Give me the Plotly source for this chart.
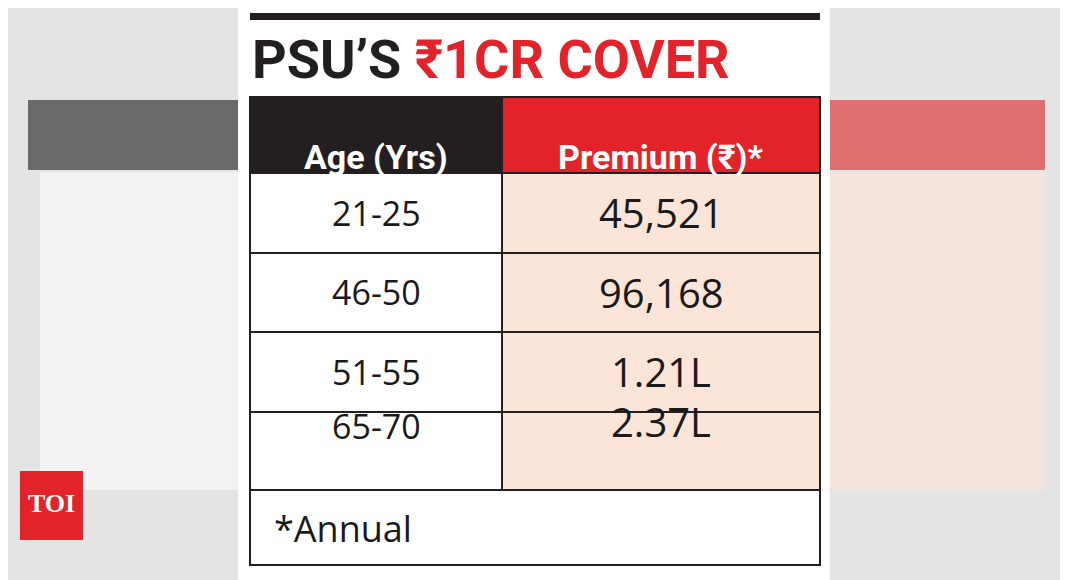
import plotly.graph_objects as go

ages = ["21-25", "46-50", "51-55", "65-70"]
premiums = ["45,521", "96,168", "1.21L", "2.37L"]
headers = ["Age (Yrs)", "Premium (₹)*"]
title_black = "PSU’S "
title_red = "₹1CR COVER"
footnote = "*Annual"

W, H = 1068, 580
OFF = 8  # page body margin
def px(x): return (x - OFF) / W
def py(y): return 1 - (y - OFF) / H

TOP, HDR, ROW = 97, 76, 79.5
fig = go.Figure()
fig.add_trace(go.Table(
    domain=dict(x=[px(250), px(820)], y=[py(490), py(TOP)]),
    columnwidth=[252, 318],
    header=dict(values=["", ""], fill_color=["#231f20", "#e3232a"],
                height=HDR, line=dict(color="#231f20", width=2)),
    cells=dict(values=[[""] * len(ages), [""] * len(premiums)],
               fill_color=[["white"] * len(ages), ["#fbe4d8"] * len(ages)],
               height=ROW, line=dict(color="#231f20", width=2)),
))

shapes = [
    dict(type="rect", x0=px(238), x1=px(830), y0=-0.1, y1=1.1, fillcolor="white", line_width=0, layer="below"),
    dict(type="rect", x0=px(28), x1=px(238), y0=py(170), y1=py(100), fillcolor="#6a6a6a", line_width=0, layer="below"),
    dict(type="rect", x0=px(830), x1=px(1045), y0=py(170), y1=py(100), fillcolor="#e07070", line_width=0, layer="below"),
    dict(type="rect", x0=px(830), x1=px(1045), y0=py(490), y1=py(172), fillcolor="#f3e4dc", line_width=0, layer="below"),
    dict(type="rect", x0=px(40), x1=px(238), y0=py(490), y1=py(172), fillcolor="#f2f2f2", line_width=0, layer="below"),
    dict(type="rect", x0=px(250), x1=px(820), y0=py(20), y1=py(13), fillcolor="#231f20", line_width=0),
    dict(type="rect", x0=px(250), x1=px(820), y0=py(565), y1=py(490), fillcolor="rgba(0,0,0,0)",
         line=dict(color="#231f20", width=2)),
    dict(type="rect", x0=px(20), x1=px(83), y0=py(540), y1=py(471), fillcolor="#e3232a", line_width=0),
]

cond = "Liberation Sans Narrow, Roboto, sans-serif"
annotations = [
    dict(x=px(250), y=py(60), xref="paper", yref="paper", xanchor="left", yanchor="middle", showarrow=False,
         text=f"<b>{title_black}<span style='color:#e3232a'>{title_red}</span></b>",
         font=dict(size=54, color="#231f20", family=cond)),
    dict(x=px(272), y=py(528), xref="paper", yref="paper", xanchor="left", yanchor="middle", showarrow=False,
         text=footnote, font=dict(size=36, color="#1a1a1a", family="Open Sans, sans-serif")),
    dict(x=px(51.5), y=py(503), xref="paper", yref="paper", xanchor="center", yanchor="middle", showarrow=False,
         text="<b>TOI</b>", font=dict(size=26, color="white", family="Liberation Serif, serif")),
]
colx = [376, 661]
for cx, h in zip(colx, headers):
    annotations.append(dict(x=px(cx), y=py(TOP + HDR / 2), xref="paper", yref="paper", showarrow=False,
                            text=f"<b>{h}</b>", font=dict(size=34, color="white", family=cond)))
for i, (a, p) in enumerate(zip(ages, premiums)):
    yc = py(TOP + HDR + ROW * (i + 0.5))
    annotations.append(dict(x=px(colx[0]), y=yc, xref="paper", yref="paper", showarrow=False,
                            text=a, font=dict(size=34, color="#1a1a1a", family="Open Sans, sans-serif")))
    annotations.append(dict(x=px(colx[1]), y=yc, xref="paper", yref="paper", showarrow=False,
                            text=p, font=dict(size=40, color="#1a1a1a", family="Open Sans, sans-serif")))

fig.update_layout(width=W, height=H, margin=dict(l=0, r=0, t=0, b=0),
                  paper_bgcolor="#e4e4e4", plot_bgcolor="#e4e4e4",
                  shapes=shapes, annotations=annotations)
fig.write_html("out.html")
